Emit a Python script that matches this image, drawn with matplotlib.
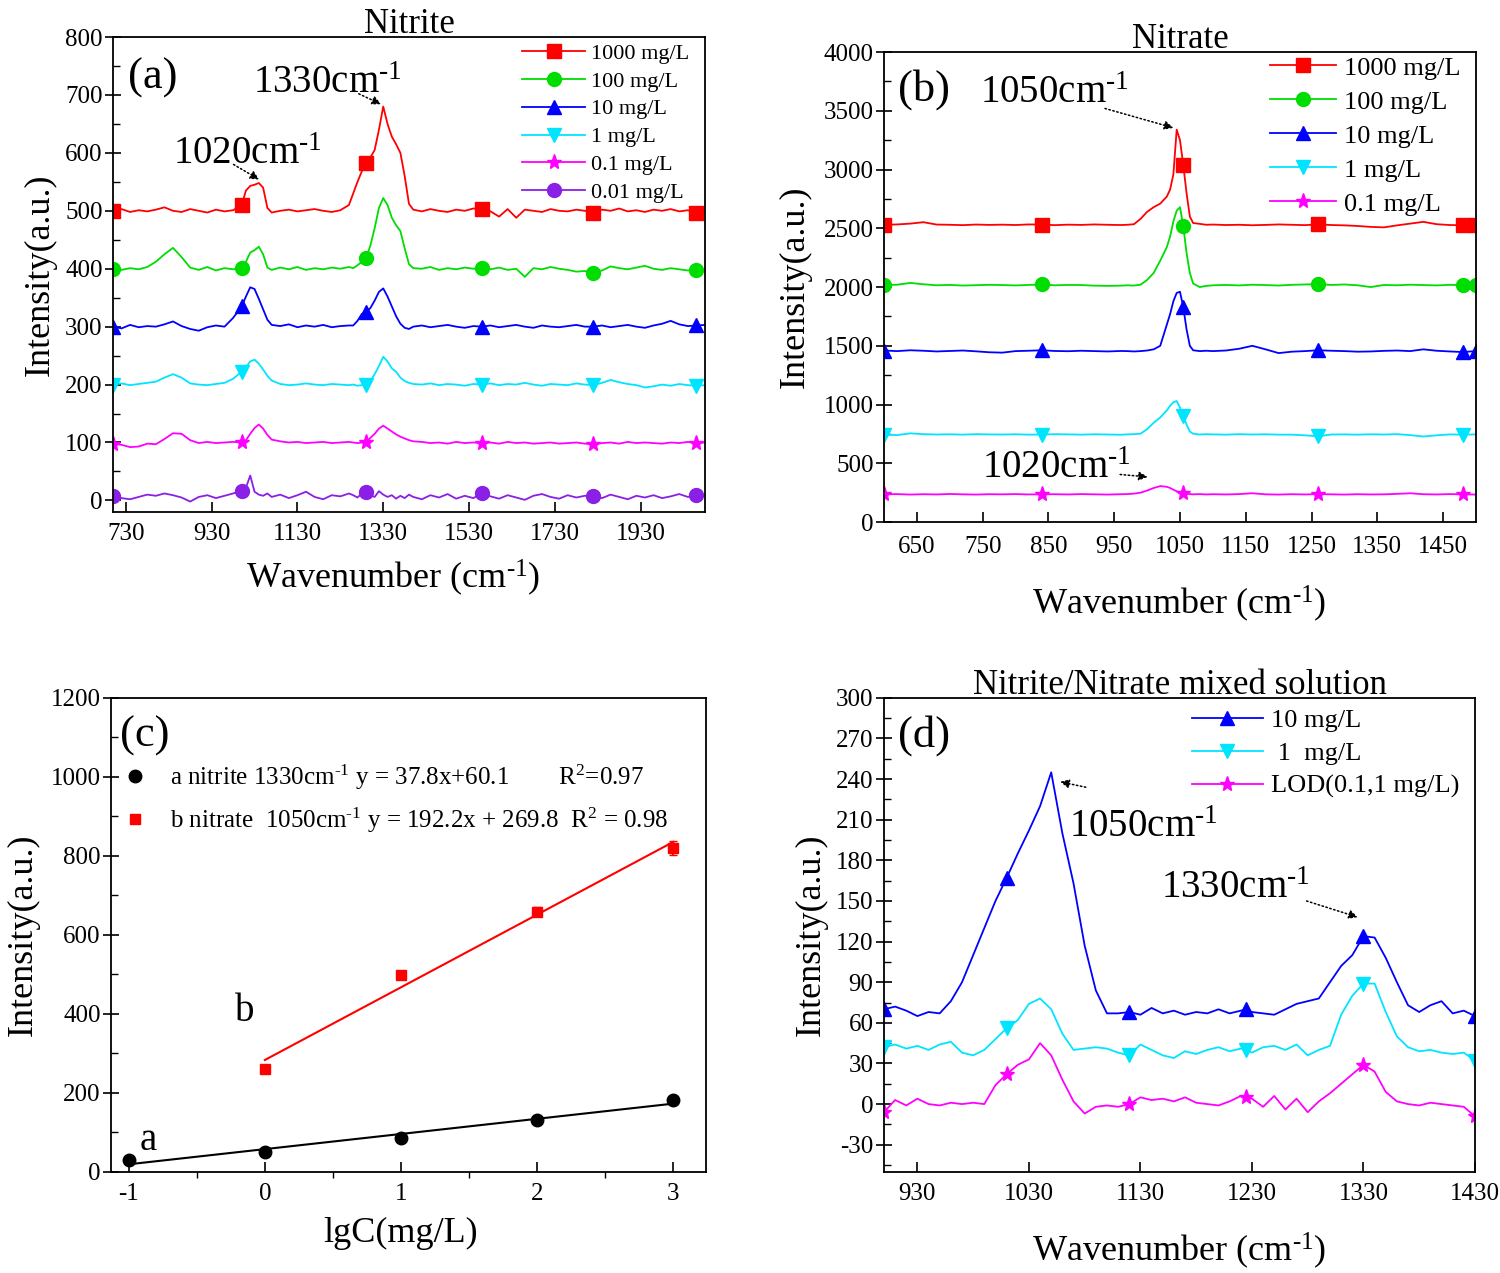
import matplotlib
matplotlib.use("Agg")
import numpy as np
import matplotlib.pyplot as plt
from matplotlib.ticker import MultipleLocator

plt.rcParams['font.family'] = 'Liberation Serif'
plt.rcParams['mathtext.fontset'] = 'custom'
plt.rcParams['mathtext.rm'] = 'Liberation Serif'
plt.rcParams['mathtext.it'] = 'Liberation Serif:italic'
plt.rcParams['axes.unicode_minus'] = False

# ---------------- (a) nitrite spectra ----------------
wn_a = [700, 720, 740, 760, 780, 800, 820, 840, 860, 880, 900, 920, 940, 960, 980, 1000,
        1010, 1020, 1030, 1040, 1050, 1060, 1070,
        1090, 1110, 1130, 1150, 1170, 1190, 1210, 1230, 1250,
        1260, 1270, 1280, 1290, 1300, 1310, 1320, 1330, 1340, 1350, 1360, 1370, 1380, 1390, 1400,
        1420, 1440, 1460, 1480, 1500, 1520, 1540, 1560, 1580, 1600, 1620, 1640, 1660, 1680,
        1700, 1720, 1740, 1760, 1780, 1800, 1820, 1840, 1860, 1880, 1900, 1920, 1940, 1960,
        1980, 2000, 2020, 2040, 2060, 2080]
labels_a = ['1000 mg/L', '100 mg/L', '10 mg/L', '1 mg/L', '0.1 mg/L', '0.01 mg/L']
a_1000 = [500, 503, 498, 501, 499, 502, 506, 500, 498, 503, 500, 497, 502, 499, 501, 510,
          535, 543, 545, 548, 540, 505, 497,
          500, 502, 499, 501, 503, 500, 498, 501, 510,
          530, 550, 568, 582, 592, 605, 640, 680, 650, 628, 615, 600, 560, 512, 502,
          499, 503, 500, 498, 502, 500, 504, 503, 499, 490, 503, 488, 502, 500, 498, 503, 500,
          499, 502, 500, 497, 502, 500, 504, 499, 501, 498, 502, 500, 503, 499, 501, 496, 498]
a_100 = [400, 398, 401, 399, 403, 412, 425, 436, 420, 402, 398, 403, 397, 401, 399, 401,
         412, 428, 432, 438, 425, 402, 398,
         402, 399, 403, 398, 401, 399, 402, 400, 403,
         401, 406, 412, 418, 440, 470, 505, 522, 510, 488, 475, 465, 435, 408, 401,
         400, 403, 398, 401, 399, 402, 400, 401, 399, 402, 398, 400, 386, 401, 399, 403, 400,
         398, 395, 396, 393, 397, 404, 401, 399, 402, 405, 400, 398, 401, 399, 397, 398, 397]
a_10 = [300, 297, 303, 299, 301, 300, 304, 309, 301, 296, 293, 299, 302, 300, 315, 335,
        352, 368, 365, 348, 330, 312, 303,
        301, 304, 299, 302, 300, 303, 299, 301, 302,
        302, 310, 322, 326, 332, 345, 360, 366, 352, 335, 318, 305, 298, 296, 300,
        302, 299, 301, 303, 300, 298, 301, 300, 302, 299, 301, 303, 300, 298, 302, 300, 299,
        301, 303, 300, 300, 302, 299, 301, 303, 300, 298, 302, 305, 310, 304, 301, 302, 303]
a_1 = [200, 202, 199, 201, 203, 205, 212, 218, 212, 202, 200, 199, 201, 203, 210, 222,
       230, 240, 243, 236, 226, 215, 207,
       201, 199, 200, 202, 200, 199, 201, 200, 199,
       200, 198, 199, 200, 206, 218, 232, 248, 240, 228, 222, 212, 206, 203, 201,
       200, 202, 199, 201, 200, 198, 201, 200, 202, 199, 201, 200, 203, 200, 198, 201, 200,
       199, 202, 200, 199, 203, 208, 204, 201, 199, 195, 197, 200, 198, 201, 199, 198, 199]
a_01 = [98, 96, 92, 93, 98, 97, 106, 116, 115, 104, 99, 101, 99, 100, 101, 100,
        104, 115, 125, 131, 124, 113, 105,
        102, 100, 101, 99, 100, 101, 99, 100, 101,
        100, 99, 100, 100, 108, 115, 124, 129, 124, 119, 114, 110, 107, 104, 102,
        101, 99, 100, 98, 101, 99, 100, 99, 100, 98, 101, 99, 100, 98, 99, 100, 98,
        99, 100, 98, 97, 99, 100, 98, 101, 99, 100, 99, 98, 100, 99, 101, 99, 100]
a_001 = [8, 4, 2, 6, 10, 8, 12, 9, 5, -2, 6, 9, 4, 8, 12, 17,
         22, 43, 15, 10, 8, 12, 6,
         10, 4, 9, 15, 6, 2, 9, 7, 12,
         9, 5, 12, 14, 9, 6, 16, 10, 6, 9, 3, 8, 4, 10, 6,
         2, 9, 5, 11, 3, 8, 4, 12, 7, 3, 9, 5, 1, 8, 11, 6, 3,
         9, 5, 8, 7, 4, 10, 6, 2, 8, 5, 9, 4, 7, 11, 6, 9, 8]

# ---------------- (b) nitrate spectra ----------------
wn_b = [600, 620, 640, 660, 680, 700, 720, 740, 760, 780, 800, 820, 840, 860, 880, 900, 920, 940, 960,
        970, 980, 990, 1000, 1010, 1020, 1030, 1035, 1040, 1045, 1050, 1055, 1060, 1065, 1070, 1080, 1090,
        1100, 1120, 1140, 1160, 1180, 1200, 1220, 1240, 1260, 1280, 1300, 1320, 1340, 1360, 1380,
        1400, 1420, 1440, 1460, 1480, 1500]
labels_b = ['1000 mg/L', '100 mg/L', '10 mg/L', '1 mg/L', '0.1 mg/L']
b_1000 = [2530, 2533, 2540, 2552, 2532, 2530, 2527, 2532, 2529, 2531, 2528, 2533, 2532, 2527, 2531,
          2529, 2533, 2530, 2528,
          2530, 2535, 2580, 2640, 2680, 2710, 2770, 2830, 2960, 3340, 3250, 3040, 2800, 2600, 2545,
          2538, 2530,
          2532, 2528, 2530, 2526, 2529, 2533, 2530, 2527, 2533, 2528, 2525, 2520, 2512, 2508, 2525,
          2540, 2555, 2535, 2528, 2526, 2530]
b_100 = [2017, 2020, 2035, 2024, 2015, 2018, 2013, 2016, 2019, 2017, 2014, 2018, 2022, 2015, 2018,
         2017, 2012, 2010, 2012,
         2015, 2013, 2020, 2060, 2120, 2225, 2340, 2430, 2560, 2650, 2680, 2520, 2290, 2120, 2030,
         2000, 2010,
         2015, 2018, 2014, 2020, 2017, 2013, 2019, 2022, 2025, 2018, 2022, 2015, 2000, 2018, 2015,
         2020, 2017, 2014, 2019, 2016, 2020]
b_10 = [1460, 1455, 1462, 1458, 1452, 1456, 1460, 1453, 1445, 1442, 1455, 1458, 1462, 1456, 1454,
        1458, 1455, 1452, 1456,
        1455, 1452, 1455, 1460, 1470, 1500, 1680, 1770, 1880, 1950, 1960, 1830, 1640, 1500, 1462,
        1455, 1458,
        1455, 1460, 1475, 1500, 1470, 1438, 1450, 1455, 1462, 1458, 1455, 1450, 1452, 1457, 1460,
        1455, 1470, 1458, 1452, 1447, 1455]
b_1 = [745, 740, 755, 748, 745, 747, 744, 748, 746, 745, 747, 744, 745, 748, 746, 744, 747, 745, 743,
       746, 748, 752, 790, 845, 890, 950, 990, 1020, 1030, 975, 905, 830, 770, 752, 745, 748,
       746, 744, 748, 745, 747, 744, 744, 738, 730, 745, 746, 744, 747, 745, 748, 740, 728, 738,
       746, 744, 746]
b_01 = [236, 238, 234, 237, 235, 239, 236, 234, 237, 236, 238, 235, 236, 237, 235, 238, 236, 234, 237,
        238, 242, 250, 268, 290, 306, 300, 290, 275, 262, 252, 245, 240, 238, 236, 238, 235,
        237, 235, 238, 245, 236, 234, 237, 235, 238, 236, 234, 237, 235, 236, 240, 245, 237, 235,
        238, 236, 234]

# ---------------- (c) calibration ----------------
lgc_a = [-1, 0, 1, 2, 3]
int_a = [30, 51, 85, 131, 182]
err_a = [4, 4, 5, 5, 6]
lgc_b = [0, 1, 2, 3]
int_b = [260, 498, 659, 820]
err_b = [9, 11, 12, 18]

# ---------------- (d) mixed solution ----------------
wn_d = [900, 910, 920, 930, 940, 950, 960, 970, 980, 990, 1000, 1010, 1020, 1030, 1040, 1050,
        1060, 1070, 1080, 1090, 1100, 1110, 1120, 1130, 1140, 1150, 1160, 1170, 1180, 1190, 1200,
        1210, 1220, 1225, 1230, 1240, 1250, 1260, 1270, 1280, 1290, 1300, 1310, 1320, 1330, 1340,
        1350, 1360, 1370, 1380, 1390, 1400, 1410, 1420, 1430]
labels_d = ['10 mg/L', ' 1  mg/L', 'LOD(0.1,1 mg/L)']
d_10 = [70, 72, 69, 65, 68, 67, 76, 90, 110, 130, 150, 167, 185, 202, 220, 245,
        200, 163, 117, 84, 67, 67, 68, 66, 71, 67, 69, 66, 68, 67, 70,
        67, 69, 70, 68, 67, 66, 70, 74, 76, 78, 90, 102, 110, 124, 123,
        108, 90, 73, 68, 73, 76, 67, 69, 65]
d_1 = [42, 44, 41, 43, 40, 44, 46, 38, 36, 40, 48, 56, 62, 74, 78, 70,
       52, 40, 41, 42, 41, 38, 36, 44, 40, 36, 34, 39, 37, 40, 42,
       39, 41, 40, 38, 42, 43, 40, 44, 36, 40, 43, 66, 80, 89, 89,
       68, 50, 42, 39, 40, 38, 37, 38, 32]
d_lod = [-6, 3, -1, 4, 0, -1, 1, 0, 1, 0, 14, 22, 29, 33, 45, 36,
         18, 2, -7, -2, -1, -2, 0, 5, 3, 4, 2, 5, 1, 0, -1,
         2, 6, 5, 4, -2, 6, -4, 4, -6, 2, 8, 15, 22, 29, 24,
         9, 2, 0, -1, 1, 0, -1, -2, -9]

RED, GREEN, BLUE = '#ff0000', '#00dd00', '#0000ff'
CYAN, MAGENTA, PURPLE = '#00e5ff', '#ff00ff', '#8a1fe6'
CM = 'cm$^{\u2010 1}$'


def style_axis(ax, ymaj, ymin, xpad=8):
    for s in ax.spines.values():
        s.set_linewidth(1.3)
    ax.yaxis.set_major_locator(MultipleLocator(ymaj))
    ax.yaxis.set_minor_locator(MultipleLocator(ymin))
    ax.tick_params(axis='y', which='major', direction='inout', length=11, width=1.2,
                   labelsize=18, pad=2)
    ax.tick_params(axis='y', which='minor', direction='in', length=5, width=1.0)
    ax.tick_params(axis='x', which='major', direction='in', length=7, width=1.2,
                   labelsize=18, pad=xpad)
    ax.tick_params(axis='x', which='minor', bottom=False)


def arrow(ax, start, end):
    ax.annotate('', xy=end, xytext=start,
                arrowprops=dict(arrowstyle='-|>', ls=':', lw=1.1, color='k',
                                mutation_scale=13, shrinkA=0, shrinkB=0))


fig = plt.figure(figsize=(15, 12.73), dpi=100)

# ---- (a)
ax = fig.add_axes([0.0753, 0.5978, 0.3947, 0.3731])
marks_a = [0, 15, 35, 54, 67, 79]
series_a = [a_1000, a_100, a_10, a_1, a_01, a_001]
colors_a = [RED, GREEN, BLUE, CYAN, MAGENTA, PURPLE]
markers_a = ['s', 'o', '^', 'v', '*', 'o']
for y, c, m, lab in zip(series_a, colors_a, markers_a, labels_a):
    ax.plot(wn_a, y, color=c, lw=1.3, marker=m, ms=11 if m == '*' else 10,
            markevery=marks_a, label=lab)
ax.set_xlim(700, 2080)
ax.set_ylim(-20, 800)
ax.set_xticks([730, 930, 1130, 1330, 1530, 1730, 1930])
style_axis(ax, 100, 50)
ax.set_title('Nitrite', fontsize=25, pad=3)
ax.set_ylabel('Intensity(a.u.)', fontsize=26)
ax.yaxis.set_label_coords(-0.095, 0.5)
ax.set_xlabel('Wavenumber (' + CM + ')', fontsize=26)
ax.xaxis.set_label_coords(0.473, -0.095)
ax.text(0.025, 0.915, '(a)', transform=ax.transAxes, fontsize=32, va='center')
ax.text(1013, 598, '1020' + CM, fontsize=28, ha='center', va='center')
arrow(ax, (981, 580), (1041, 554))
ax.text(1200, 720, '1330' + CM, fontsize=28, ha='center', va='center')
arrow(ax, (1273, 702), (1325, 684))
ax.legend(loc='upper right', bbox_to_anchor=(1.0, 1.02), frameon=False, fontsize=16,
          handlelength=2.8, handletextpad=0.3, labelspacing=0.33, borderaxespad=0.3)

# ---- (b)
ax = fig.add_axes([0.5893, 0.5899, 0.3947, 0.3692])
series_b = [b_1000, b_100, b_10, b_1, b_01]
colors_b = [RED, GREEN, BLUE, CYAN, MAGENTA]
markers_b = ['s', 'o', '^', 'v', '*']
for i, (y, c, m, lab) in enumerate(zip(series_b, colors_b, markers_b, labels_b)):
    me = [0, 12, 30, 44, 55, 56] if i < 3 else [0, 12, 30, 44, 55]
    ax.plot(wn_b, y, color=c, lw=1.3, marker=m, ms=11 if m == '*' else 10,
            markevery=me, label=lab)
ax.set_xlim(600, 1500)
ax.set_ylim(0, 4000)
ax.set_xticks([650, 750, 850, 950, 1050, 1150, 1250, 1350, 1450])
style_axis(ax, 500, 250, xpad=10)
ax.set_title('Nitrate', fontsize=25, pad=3)
ax.set_ylabel('Intensity(a.u.)', fontsize=26)
ax.yaxis.set_label_coords(-0.122, 0.5)
ax.set_xlabel('Wavenumber (' + CM + ')', fontsize=26)
ax.xaxis.set_label_coords(0.498, -0.13)
ax.text(0.024, 0.92, '(b)', transform=ax.transAxes, fontsize=32, va='center')
ax.text(859, 3650, '1050' + CM, fontsize=28, ha='center', va='center')
arrow(ax, (936, 3520), (1040, 3355))
ax.text(862, 455, '1020' + CM, fontsize=28, ha='center', va='center')
arrow(ax, (959, 405), (1001, 384))
ax.legend(loc='upper right', bbox_to_anchor=(1.0, 1.025), frameon=False, fontsize=19,
          handlelength=2.5, handletextpad=0.3, labelspacing=0.4, borderaxespad=0.2)

# ---- (c)
ax = fig.add_axes([0.0740, 0.0795, 0.3967, 0.3723])
fit_a = np.polyfit(lgc_a, int_a, 1)
fit_b = np.polyfit(lgc_b, int_b, 1)
xa = np.array([lgc_a[0], lgc_a[-1]])
xb = np.array([lgc_b[0], lgc_b[-1]])
ax.plot(xa, np.polyval(fit_a, xa), color='k', lw=1.5)
ax.plot(xb, np.polyval(fit_b, xb), color=RED, lw=1.5)
ax.errorbar(lgc_a, int_a, yerr=err_a, fmt='none', ecolor='k', capsize=3, elinewidth=1.2)
ax.errorbar(lgc_b, int_b, yerr=err_b, fmt='none', ecolor=RED, capsize=3, elinewidth=1.5)
ax.plot(lgc_a, int_a, 'o', color='k', ms=9,
        label='a nitrite 1330' + CM + ' y = 37.8x+60.1        R$^{2}$=0.97')
ax.plot(lgc_b, int_b, 's', color=RED, ms=7,
        label='b nitrate  1050' + CM + ' y = 192.2x + 269.8  R$^{2}$ = 0.98')
ax.set_xlim(-1.13, 3.24)
ax.set_ylim(0, 1200)
ax.set_xticks([-1, 0, 1, 2, 3])
ax.xaxis.set_minor_locator(MultipleLocator(0.5))
style_axis(ax, 200, 100)
ax.tick_params(axis='x', which='minor', bottom=True, direction='out', length=4, width=1.0)
ax.set_ylabel('Intensity(a.u.)', fontsize=26)
ax.yaxis.set_label_coords(-0.119, 0.5)
ax.set_xlabel('lgC(mg/L)', fontsize=26)
ax.xaxis.set_label_coords(0.487, -0.095)
ax.text(0.015, 0.92, '(c)', transform=ax.transAxes, fontsize=32, va='center')
ax.text(-0.86, 80, 'a', fontsize=28, ha='center', va='center')
ax.text(-0.15, 406, 'b', fontsize=28, ha='center', va='center')
ax.legend(loc='upper left', bbox_to_anchor=(-0.01, 0.9), frameon=False, fontsize=18,
          handlelength=1.0, handletextpad=0.9, labelspacing=0.55, borderaxespad=0.3)

# ---- (d)
ax = fig.add_axes([0.5893, 0.0795, 0.3940, 0.3723])
marks_d = [0, 11, 22, 33, 44, 54]
series_d = [d_10, d_1, d_lod]
colors_d = [BLUE, CYAN, MAGENTA]
markers_d = ['^', 'v', '*']
for y, c, m, lab in zip(series_d, colors_d, markers_d, labels_d):
    ax.plot(wn_d, y, color=c, lw=1.3, marker=m, ms=11 if m == '*' else 10,
            markevery=marks_d, label=lab)
ax.set_xlim(900, 1430)
ax.set_ylim(-50, 300)
ax.set_xticks([930, 1030, 1130, 1230, 1330, 1430])
style_axis(ax, 30, 15)
ax.set_yticks(range(-30, 301, 30))
ax.set_title('Nitrite/Nitrate mixed solution', fontsize=25, pad=3)
ax.set_ylabel('Intensity(a.u.)', fontsize=26)
ax.yaxis.set_label_coords(-0.095, 0.5)
ax.set_xlabel('Wavenumber (' + CM + ')', fontsize=26)
ax.xaxis.set_label_coords(0.5, -0.125)
ax.text(0.024, 0.92, '(d)', transform=ax.transAxes, fontsize=32, va='center')
ax.text(1133, 204, '1050' + CM, fontsize=28, ha='center', va='center')
arrow(ax, (1081, 234), (1058, 238))
ax.text(1215, 159, '1330' + CM, fontsize=28, ha='center', va='center')
arrow(ax, (1279, 150), (1325, 138))
ax.legend(loc='upper right', bbox_to_anchor=(1.0, 1.01), frameon=False, fontsize=19,
          handlelength=2.7, handletextpad=0.3, labelspacing=0.35, borderaxespad=0.2)

fig.savefig('out.png', dpi=100)
